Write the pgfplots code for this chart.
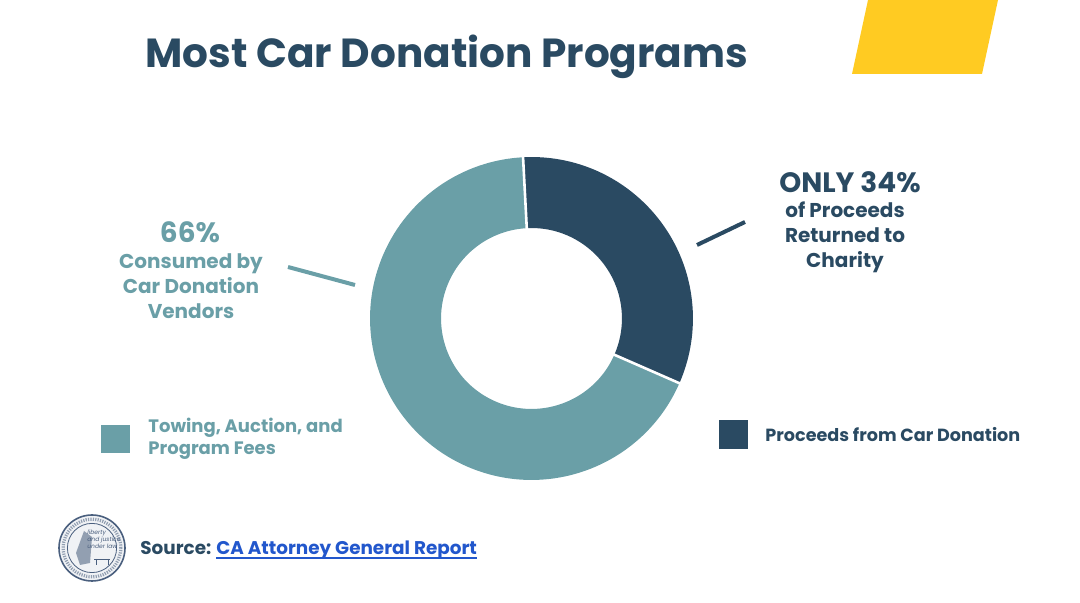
\documentclass[border=0pt]{standalone}
\usepackage{fontspec}
\setmainfont{Poppins}
\usepackage{pgfplots}
\usepackage{pgfplotstable}
\pgfplotsset{compat=1.18}
\definecolor{navy}{HTML}{2A4A62}
\definecolor{teal}{HTML}{6A9FA7}
\definecolor{gold}{HTML}{FFCB22}
\definecolor{linkblue}{HTML}{2257CC}
\definecolor{seal}{HTML}{4A5F7E}
\pgfplotstableread{
label value
Proceeds 32.4
Fees 67.6
}\donutdata
\begin{document}
\begin{tikzpicture}
\path[use as bounding box] (0,0) rectangle (540pt,301.5pt);
\pgfplotstablegetelem{0}{value}\of\donutdata \let\valA\pgfplotsretval
\pgfplotstablegetelem{1}{value}\of\donutdata \let\valB\pgfplotsretval
\pgfmathsetmacro{\startang}{93}
\pgfmathsetmacro{\midang}{\startang-3.6*\valA}
\pgfmathsetmacro{\endang}{\midang-3.6*\valB}
\begin{axis}[
  width=540pt, height=301.5pt, scale only axis,
  xmin=0, xmax=1080, ymin=0, ymax=603,
  hide axis, clip=false,
]
% yellow parallelogram
\fill[gold] (axis cs:868,603) -- (axis cs:998,603) -- (axis cs:982,529) -- (axis cs:852,529) -- cycle;
% title
\node[anchor=base west, text=navy, font=\fontsize{20.3}{24}\selectfont\bfseries, inner sep=0pt] at (axis cs:145,535) {Most Car Donation Programs};
% donut
\draw[navy, line width=35.5pt] (axis cs:531.5,284.5) ++(\startang:62.97pt) arc[start angle=\startang, end angle=\midang, radius=62.97pt];
\draw[teal, line width=35.5pt] (axis cs:531.5,284.5) ++(\midang:62.97pt) arc[start angle=\midang, end angle=\endang, radius=62.97pt];
\draw[white, line width=1.3pt] (axis cs:531.5,284.5) ++(\startang:44pt) -- ++(\startang:38pt);
\draw[white, line width=1.3pt] (axis cs:531.5,284.5) ++(\midang:44pt) -- ++(\midang:38pt);
% leader lines
\draw[teal, line width=2pt] (axis cs:288,336) -- (axis cs:355,318);
\draw[navy, line width=2pt] (axis cs:697,358) -- (axis cs:745,381);
% left label
\node[text=teal, font=\fontsize{14}{16}\selectfont\bfseries, inner sep=0pt] at (axis cs:190,371) {66\%};
\node[text=teal, font=\fontsize{10}{12.5}\selectfont\bfseries, align=center, inner sep=0pt] at (axis cs:191,317) {Consumed by\\Car Donation\\Vendors};
% right label
\node[text=navy, font=\fontsize{14}{16}\selectfont\bfseries, inner sep=0pt] at (axis cs:850,421) {ONLY 34\%};
\node[text=navy, font=\fontsize{10}{12.5}\selectfont\bfseries, align=center, inner sep=0pt] at (axis cs:845,366) {of Proceeds\\Returned to\\Charity};
% legends
\fill[teal] (axis cs:101,150) rectangle (axis cs:130,178);
\node[anchor=west, text=teal, font=\fontsize{9}{11}\selectfont\bfseries, align=left, inner sep=0pt] at (axis cs:148,164) {Towing, Auction, and\\Program Fees};
\fill[navy] (axis cs:719,154) rectangle (axis cs:748,183);
\node[anchor=west, text=navy, font=\fontsize{8.8}{11}\selectfont\bfseries, inner sep=0pt] at (axis cs:765,168) {Proceeds from Car Donation};
% seal
\fill[white!92!seal] (axis cs:92,55) circle[radius=16.5pt];
\draw[seal, line width=0.8pt] (axis cs:92,55) circle[radius=16.5pt];
\draw[seal!60, line width=1.6pt, dash pattern=on 0.6pt off 0.6pt] (axis cs:92,55) circle[radius=14.4pt];
\draw[seal, line width=0.4pt] (axis cs:92,55) circle[radius=12.3pt];
\fill[seal!60] (axis cs:76,50) -- (axis cs:84,72) -- (axis cs:92,66) -- (axis cs:90,40) -- (axis cs:80,38) -- cycle;
\node[text=seal, font=\fontsize{3}{3.5}\selectfont\itshape, align=left, inner sep=0pt] at (axis cs:104,64) {liberty\\and justice\\under law};
\draw[seal, line width=0.4pt] (axis cs:94,44) -- (axis cs:110,44) (axis cs:96,44) -- (axis cs:96,38) (axis cs:108,44) -- (axis cs:108,38);
% source
\node[anchor=base west, text=navy, font=\fontsize{9.2}{11}\selectfont\bfseries, inner sep=0pt] at (axis cs:140,48) {Source:};
\node[anchor=base west, text=linkblue, font=\fontsize{9.2}{11}\selectfont\bfseries, inner sep=0pt] (lnk) at (axis cs:216,48) {CA Attorney General Report};
\draw[linkblue, line width=0.7pt] ([yshift=-1.6pt]lnk.base west) -- ([yshift=-1.6pt]lnk.base east);
\end{axis}
\end{tikzpicture}
\end{document}
